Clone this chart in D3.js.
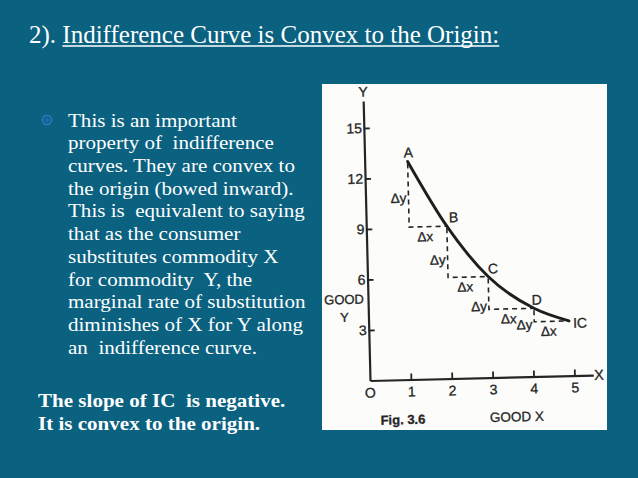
<!DOCTYPE html>
<html lang="en">
<head>
<meta charset="UTF-8">
<script src="https://cdnjs.cloudflare.com/ajax/libs/d3/7.8.5/d3.min.js"></script>
<title>Indifference Curve</title>
<style>
  html, body { margin: 0; padding: 0; background: #0a6180; }
  svg { display: block; }
</style>
</head>
<body>
<script>
    // values (Fig. 3.6)
    const goodX = [1.05, 1.97, 2.95, 4.05, 4.9];
    const goodY = [12.95, 9.05, 6.0, 4.05, 3.25];
    const pointNames = ["A", "B", "C", "D", "IC"];
    const xTicks = [1, 2, 3, 4, 5];
    const yTicks = [3, 6, 9, 12, 15];

    const titleNum = "2).\u00a0";
    const titleText = "Indifference Curve is Convex to the Origin:";
    const bodyLines = [
        "This is an important",
        "property of  indifference",
        "curves. They are convex to",
        "the origin (bowed inward).",
        "This is  equivalent to saying",
        "that as the consumer",
        "substitutes commodity X",
        "for commodity  Y, the",
        "marginal rate of substitution",
        "diminishes of X for Y along",
        "an  indifference curve."
    ];
    const boldLines = ["The slope of IC  is negative.", "It is convex to the origin."];

    const W = 638, H = 478;
    const svg = d3.select("body").append("svg").attr("width", W).attr("height", H);
    svg.append("rect").attr("width", W).attr("height", H).attr("fill", "#0a6180");

    const serif = "'Liberation Serif', 'Times New Roman', serif";
    const sans = "'Liberation Sans', Arial, sans-serif";

    // title
    const t1 = svg.append("text").attr("x", 29).attr("y", 43)
        .attr("font-family", serif).attr("font-size", 25).attr("fill", "#fff")
        .text(titleNum);
    const w1 = t1.node().getComputedTextLength();
    const t2 = svg.append("text").attr("x", 29 + w1).attr("y", 43)
        .attr("font-family", serif).attr("font-size", 25).attr("fill", "#fff")
        .text(titleText);
    const w2 = t2.node().getComputedTextLength();
    svg.append("line").attr("x1", 29 + w1).attr("x2", 29 + w1 + w2)
        .attr("y1", 46).attr("y2", 46).attr("stroke", "#fff").attr("stroke-width", 1.4);

    // bullet
    svg.append("circle").attr("cx", 47).attr("cy", 120).attr("r", 4.5)
        .attr("fill", "none").attr("stroke", "#2a7cc4").attr("stroke-width", 1.5);
    svg.append("circle").attr("cx", 47).attr("cy", 120).attr("r", 2.2).attr("fill", "#1f6bb5");

    // slide text is a bit wider than plain Times, so stretch it horizontally
    svg.append("g").attr("transform", "translate(68,0) scale(1.15,1)")
        .selectAll("text").data(bodyLines).join("text")
        .attr("x", 0).attr("y", (d, i) => 126.7 + i * 22.7)
        .attr("font-family", serif).attr("font-size", 18.3).attr("fill", "#fff")
        .style("white-space", "pre")
        .text(d => d);

    svg.append("g").attr("transform", "translate(38,0) scale(1.15,1)")
        .selectAll("text").data(boldLines).join("text")
        .attr("x", 0).attr("y", (d, i) => 406.7 + i * 23.3)
        .attr("font-family", serif).attr("font-size", 18.3).attr("font-weight", "bold")
        .attr("fill", "#fff").style("white-space", "pre")
        .text(d => d);

    // white figure panel
    svg.append("rect").attr("x", 322).attr("y", 84).attr("width", 285).attr("height", 346)
        .attr("fill", "#fcfcfa");

    // chart group: origin of the axes, the scanned figure is slightly tilted
    const ink = "#252525";
    const g = svg.append("g").attr("transform", "translate(370,380.5) rotate(-1.4)");

    const x = d3.scaleLinear().domain([0, 5.46]).range([0, 223.3]);
    const y = d3.scaleLinear().domain([0, 16.6]).range([0, -279.5]);

    const xAxis = g.append("g").call(d3.axisBottom(x).tickValues(xTicks).tickSize(-6)
        .tickSizeOuter(0).tickPadding(7).tickFormat(d3.format("d")));
    const yAxis = g.append("g").call(d3.axisLeft(y).tickValues(yTicks).tickSize(-6)
        .tickSizeOuter(0).tickPadding(2).tickFormat(d3.format("d")));
    [xAxis, yAxis].forEach(a => {
        a.select(".domain").attr("stroke", ink).attr("stroke-width", 2.2);
        a.selectAll(".tick line").attr("stroke", ink).attr("stroke-width", 1.8);
        a.selectAll(".tick text").attr("fill", ink).attr("font-family", sans).attr("font-size", 14)
            .attr("stroke", ink).attr("stroke-width", 0.3);
    });

    const lab = (tx, ty, s, opts = {}) => g.append("text").attr("x", tx).attr("y", ty)
        .attr("text-anchor", opts.anchor || "middle").attr("dominant-baseline", "central")
        .attr("font-family", sans).attr("font-size", opts.size || 13)
        .attr("font-weight", opts.weight || "normal").attr("fill", ink)
        .attr("stroke", ink).attr("stroke-width", 0.3).text(s);

    lab(x(0), 12, "O", {size: 14});
    lab(0, -289, "Y", {size: 14});
    lab(x(5.46) + 1, 0, "X", {anchor: "start", size: 14.5});
    lab(-24, -81.7, "GOOD", {size: 13});
    lab(-24, -63.7, "Y", {size: 13});
    lab(32, 40, "Fig. 3.6", {weight: "bold", size: 13});
    lab(146, 40, "GOOD X", {size: 13.5});

    // dashed steps (Δy down, Δx across)
    const pts = goodX.map((v, i) => [x(v), y(goodY[i])]);
    const steps = g.append("g");
    for (let i = 0; i < pts.length - 1; i++) {
        const [ax, ay] = pts[i], [bx, by] = pts[i + 1];
        steps.append("path")
            .attr("d", `M${ax},${ay + 2}V${by}H${bx}`)
            .attr("fill", "none").attr("stroke", ink).attr("stroke-width", 1.6)
            .attr("stroke-dasharray", "5,4");
        const len = by - ay;
        const dyPos = by - Math.max(0, len - 33) * 0.8 - 3 + Math.max(0, 25 - len) * 0.5;
        lab(ax - 2, dyPos, "Δy", {anchor: "end", size: 13.5});
        lab((ax + bx) / 2 - 3, by + 10, "Δx", {size: 13.5});
    }

    // the indifference curve
    g.append("path").datum(pts)
        .attr("d", d3.line().curve(d3.curveMonotoneX))
        .attr("fill", "none").attr("stroke", "#1e1e1e").attr("stroke-width", 2.9)
        .attr("stroke-linecap", "round");

    const nameOff = [[1, -9], [7, -9], [5, -8], [3, -8.5], [4, 2]];
    pointNames.forEach((n, i) => {
        lab(pts[i][0] + nameOff[i][0], pts[i][1] + nameOff[i][1], n,
            {anchor: n === "IC" ? "start" : "middle", size: 14});
    });
</script>
</body>
</html>
